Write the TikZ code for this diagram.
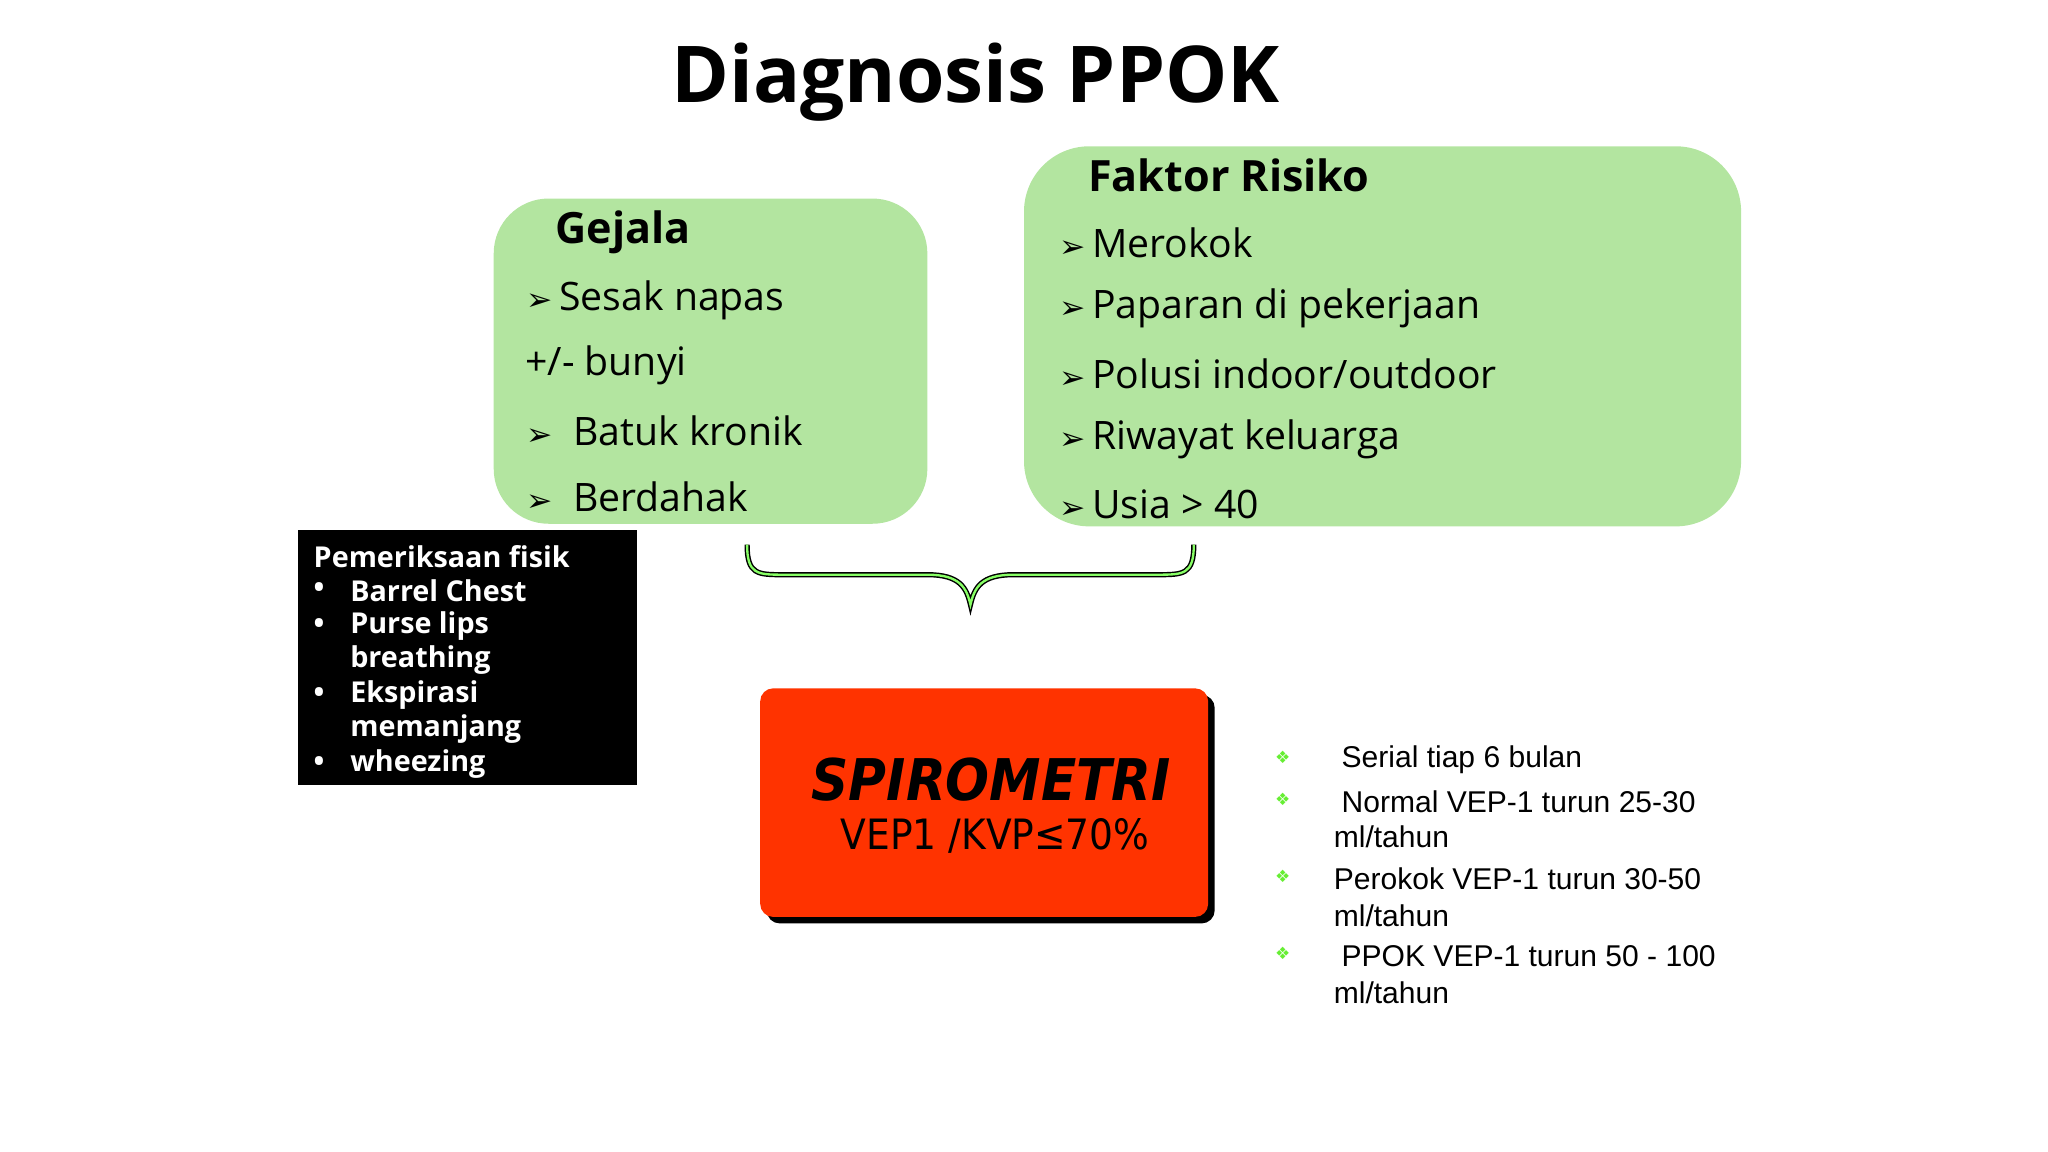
\documentclass[tikz,border=0pt]{standalone}
\usepackage{fontspec}
\setmainfont{Open Sans}
\newfontfamily\djfont{DejaVu Sans}
\newfontfamily\djcfont{DejaVu Sans Condensed}
\newfontfamily\arsfont{Liberation Sans}
\definecolor{boxgreen}{HTML}{B3E5A0}
\definecolor{spiro}{HTML}{FF3300}
\definecolor{bul}{HTML}{66EE33}
\newcommand{\fs}[1]{\fontsize{#1}{#1}\selectfont}
\newcommand{\arr}{{\djfont\fs{24}➢}}
\tikzset{
 t/.style={anchor=west,inner sep=0pt,text=black},
 it/.style={t,font=\fs{30}},
 rt/.style={t,font=\arsfont\fs{23}},
 wt/.style={t,text=white,font=\bfseries\fs{22}},
 dm/.style={t,text=bul,font=\djfont\fs{13}},
}
\begin{document}
\begin{tikzpicture}[x=1pt,y=-1pt]
\useasboundingbox (0,0) rectangle (1568,882);
\node[inner sep=0pt,font=\bfseries\fs{60}] (title) at (747,63) {Diagnosis PPOK};
% boxes
\fill[boxgreen,rounded corners=42] (378,152) rectangle (710,401);
\fill[boxgreen,rounded corners=50] (784,112) rectangle (1333,403);
\node[t,font=\bfseries\fs{33}] (g) at (425,178) {Gejala};
\node[it] (g1) at (403,230) {\arr\,Sesak napas};
\node[it] (g2) at (402,280) {+/- bunyi};
\node[it] (g3) at (403,330) {\arr\ \ Batuk kronik};
\node[it] (g4) at (403,380) {\arr\ \ Berdahak};
\node[t,font=\bfseries\fs{33}] (f) at (833,134) {Faktor Risiko};
\node[it] (f1) at (811,186) {\arr\,Merokok};
\node[it] (f2) at (811,236) {\arr\,Paparan di pekerjaan};
\node[it] (f3) at (811,286) {\arr\,Polusi indoor/outdoor};
\node[it] (f4) at (811,336) {\arr\,Riwayat keluarga};
\node[it] (f5) at (811,386) {\arr\,Usia > 40};
% black box
\fill[black] (228,406) rectangle (488,601);
\node[wt] (p0) at (240,426) {Pemeriksaan fisik};
\foreach \y/\s/\b in {452/Barrel Chest/1,479/Purse lips/1,505/breathing/0,532/Ekspirasi/1,558/memanjang/0,585/wheezing/1}{
  \node[wt] at (268,\y) {\s};
  \ifnum\b=1 \node[wt] at (240,\y) {•};\fi
}
% brace
\coordinate (bl) at (572,417);
\coordinate (br) at (914,417);
\coordinate (bt) at (743,463);
\foreach \c/\w in {black/4,green!70!lime!60!white/1.8}{
\draw[\c,line width=\w] (bl) .. controls (572,440) and (580,440) .. (600,440) -- (710,440) .. controls (735,440) and (740,450) .. (bt)
 .. controls (746,450) and (751,440) .. (776,440) -- (886,440) .. controls (906,440) and (914,440) .. (br);
}
% spirometri
\fill[black,rounded corners=10] (587,532) rectangle (930,707);
\fill[spiro,rounded corners=10] (582,527) rectangle (925,702);
\node[inner sep=0pt,font=\djcfont\bfseries\itshape\fs{44}] (sp) at (759,597) {SPIROMETRI};
\node[inner sep=0pt,font=\djcfont\fs{32}] (vep) at (762,640) {VEP1 /KVP≤70\%};
% right list
\node[dm] at (976,580) {❖};
\node[dm] at (976,612) {❖};
\node[dm] at (976,671) {❖};
\node[dm] at (976,730) {❖};
\node[rt] at (1027,582) {Serial tiap 6 bulan};
\node[rt] at (1027,614) {Normal VEP-1 turun 25-30};
\node[rt] at (1021,641) {ml/tahun};
\node[rt] at (1021,673) {Perokok VEP-1 turun 30-50};
\node[rt] at (1021,701) {ml/tahun};
\node[rt] at (1027,732) {PPOK VEP-1 turun 50 - 100};
\node[rt] at (1021,760) {ml/tahun};
\end{tikzpicture}
\end{document}
